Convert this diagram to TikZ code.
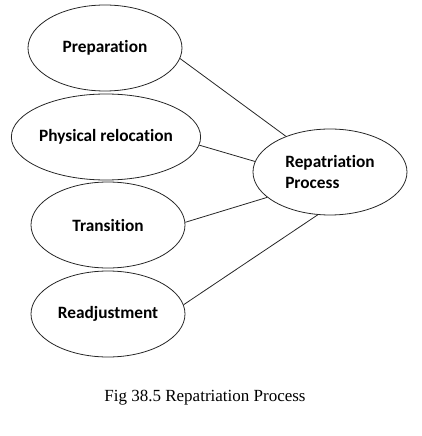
\documentclass[tikz,border=0pt]{standalone}
\usepackage{fontspec}
\setmainfont{Liberation Serif}
\newfontfamily\calfont[Ligatures=NoCommon]{Carlito}
\usetikzlibrary{shapes.geometric}
\tikzset{
  stage/.style={ellipse, draw=black!85, line width=0.8pt, minimum width=154pt, minimum height=86pt, inner sep=0pt, font=\calfont\bfseries\fontsize{17.3}{20.5}\selectfont},
  link/.style={draw=black!85, line width=0.8pt},
  caption/.style={font=\fontsize{17}{20}\selectfont}
}
\begin{document}
\begin{tikzpicture}
\useasboundingbox (0,0) rectangle (14.797,-15.324);
\node[stage] (prep) at (3.690,-1.687) {Preparation};
\node[stage] (phys) at (3.725,-4.815) {Physical relocation};
\node[stage] (trans) at (3.796,-7.908) {Transition};
\node[stage] (read) at (3.796,-11.036) {Readjustment};
\node[stage, align=left] (rep) at (11.598,-6.045) {Repatriation\\Process};
\draw[link] (prep.-8) -- (rep.141);
\draw[link] (phys.-5) -- (rep.172);
\draw[link] (trans.2) -- (rep.202);
\draw[link] (read.7) -- (rep.254);
\node[caption] (cap) at (7.205,-13.98) {Fig 38.5 Repatriation Process};
\end{tikzpicture}
\end{document}
